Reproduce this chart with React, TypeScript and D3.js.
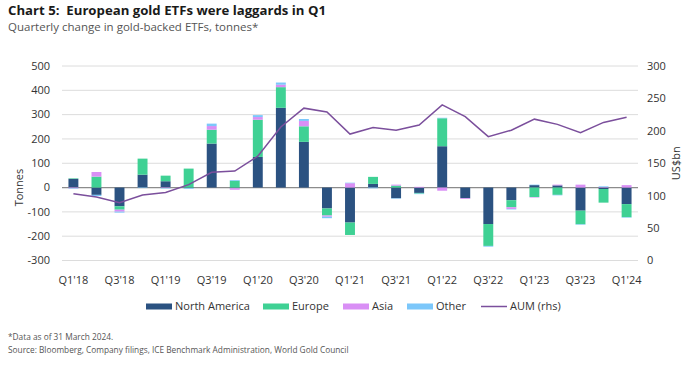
import React from "react"
import * as d3 from "d3"

const quarters = [
    "Q1'18", "Q2'18", "Q3'18", "Q4'18", "Q1'19", "Q2'19", "Q3'19", "Q4'19",
    "Q1'20", "Q2'20", "Q3'20", "Q4'20", "Q1'21", "Q2'21", "Q3'21", "Q4'21",
    "Q1'22", "Q2'22", "Q3'22", "Q4'22", "Q1'23", "Q2'23", "Q3'23", "Q4'23", "Q1'24",
]
const northAmerica = [36, -30, -77, 53, 26, -2, 181, -3, 126, 328, 188, -86, -144, 15, -44, -22, 170, -44, -150, -52, 10, 9, -95, -6, -68]
const europe = [2, 45, -14, 66, 23, 78, 57, 28, 153, 85, 64, -29, -51, 29, 8, -3, 115, 0, -90, -29, -39, -30, -56, -56, -54]
const asia = [-3, 19, -8, 0, -2, 0, 15, -6, 11, 10, 22, -5, 18, 0, 4, 3, -13, -3, 0, -7, -2, 3, 12, 2, 10]
const other = [-2, -5, -4, -2, -2, -3, 10, 3, 8, 9, 8, -6, 2, -3, -2, -2, 2, 0, -3, -2, 2, -2, -2, 3, -2]
const aum = [103, 98, 89, 101, 105, 117, 136, 138, 161, 206, 235, 229, 195, 205, 201, 209, 240, 222, 191, 201, 218, 210, 197, 213, 221]

const leftTicks = [-300, -200, -100, 0, 100, 200, 300, 400, 500]
const rightTicks = [0, 50, 100, 150, 200, 250, 300]

const seriesKeys = ["North America", "Europe", "Asia", "Other"]
const colors: Record<string, string> = {
    "North America": "#2b5281",
    "Europe": "#3fd194",
    "Asia": "#d98ff5",
    "Other": "#7cc7fa",
}
const lineColor = "#7b4f9c"
const font = "'Open Sans', 'Noto Sans', sans-serif"

export default function App() {
    const width = 700, height = 385
    const left = 62, right = 638, top = 66, bottom = 260.5

    const x = d3.scaleBand<string>().domain(quarters).range([left, right]).paddingInner(0.57).paddingOuter(0.28)
    const y = d3.scaleLinear().domain([-300, 500]).range([bottom, top])
    const y2 = d3.scaleLinear().domain([0, 300]).range([bottom, top])

    const rows = quarters.map((q, i) => ({
        q,
        "North America": northAmerica[i],
        "Europe": europe[i],
        "Asia": asia[i],
        "Other": other[i],
    }))
    const stacked = d3.stack<any>().keys(seriesKeys).offset(d3.stackOffsetDiverging)(rows)

    const cx = (q: string) => (x(q) ?? 0) + x.bandwidth() / 2
    const line = d3.line<number>().x((_, i) => cx(quarters[i])).y(d => y2(d))

    const legend = [
        { label: "North America", x: 146, type: "rect", color: colors["North America"] },
        { label: "Europe", x: 263, type: "rect", color: colors["Europe"] },
        { label: "Asia", x: 343, type: "rect", color: colors["Asia"] },
        { label: "Other", x: 407, type: "rect", color: colors["Other"] },
        { label: "AUM (rhs)", x: 481, type: "line", color: lineColor },
    ]

    return (
        <svg width={width} height={height} style={{ position: "absolute", left: 0, top: 0, background: "#fff" }} fontFamily={font}>
            <text x={8} y={15} fontSize={13.2} fontWeight={700} fill="#1a1a1a" style={{ whiteSpace: "pre" }}>Chart 5:  European gold ETFs were laggards in Q1</text>
            <text x={8} y={31} fontSize={11.5} fill="#555">Quarterly change in gold-backed ETFs, tonnes*</text>

            {leftTicks.map(t => (
                <g key={t}>
                    <line x1={left} x2={right} y1={y(t)} y2={y(t)} stroke={t === 0 ? "#8c8c8c" : "#dcdcdc"} strokeWidth={t === 0 ? 1.2 : 1} />
                    <text x={50} y={y(t)} dy="0.35em" textAnchor="end" fontSize={11} fill="#333">{t}</text>
                </g>
            ))}
            {rightTicks.map(t => (
                <text key={t} x={647} y={y2(t)} dy="0.35em" fontSize={11} fill="#333">{t}</text>
            ))}
            <text transform={`translate(23,${y(0)}) rotate(-90)`} textAnchor="middle" fontSize={11} fill="#333">Tonnes</text>
            <text transform={`translate(680,${y2(150)}) rotate(-90)`} textAnchor="middle" fontSize={11} fill="#333">US$bn</text>

            {stacked.map(s => (
                <g key={s.key} fill={colors[s.key]}>
                    {s.map((d, i) => (
                        <rect key={i} x={x(quarters[i])} width={x.bandwidth()}
                            y={y(Math.max(d[0], d[1]))} height={Math.abs(y(d[0]) - y(d[1]))} />
                    ))}
                </g>
            ))}

            <path d={line(aum) ?? ""} fill="none" stroke={lineColor} strokeWidth={1.5} />

            {quarters.map((q, i) => i % 2 === 0 && (
                <text key={q} x={cx(q)} y={284} textAnchor="middle" fontSize={11} fill="#333">{q}</text>
            ))}

            {legend.map(l => (
                <g key={l.label}>
                    {l.type === "rect"
                        ? <rect x={l.x} y={303.5} width={26} height={6} fill={l.color} />
                        : <line x1={l.x} x2={l.x + 26} y1={306.5} y2={306.5} stroke={l.color} strokeWidth={1.5} />}
                    <text x={l.x + 29} y={306.5} dy="0.35em" fontSize={11} fill="#333">{l.label}</text>
                </g>
            ))}

            <text x={8} y={340} fontSize={8.3} fill="#555">*Data as of 31 March 2024.</text>
            <text x={8} y={353} fontSize={8.3} fill="#555">Source: Bloomberg, Company filings, ICE Benchmark Administration, World Gold Council</text>
        </svg>
    )
}
